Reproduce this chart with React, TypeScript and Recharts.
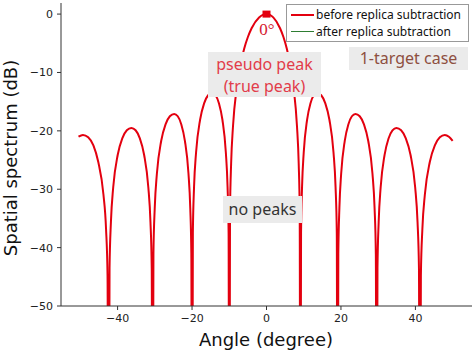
import React from 'react';
import { LineChart, Line, XAxis, YAxis, ReferenceDot } from 'recharts';

const angles = [
  -50.5, -49.3, -47.9, -46.5, -45.2, -43.8, -43.1, -42.7, -42.4,
  -42.16, -41.79, -41.18, -39.96, -38.74, -37.52, -36.3, -35.16, -34.02, -32.88, -31.74, -31.17, -30.83, -30.6,
  -30.37, -30.02, -29.44, -28.28, -27.12, -25.96, -24.8, -23.84, -22.88, -21.92, -20.96, -20.48, -20.19, -20.0,
  -19.78, -19.46, -18.92, -17.84, -16.76, -15.68, -14.6, -13.68, -12.76, -11.84, -10.92, -10.46, -10.18, -10.0,
  -9.8, -9.5, -9, -8, -7, -6, -5, -4, -2, -1, 0, 0.91, 1.82, 3.64, 4.55, 5.46, 6.37, 7.28, 8.19, 8.65, 8.92, 9.1,
  9.28, 9.55, 10.0, 10.9, 11.8, 12.7, 13.6, 14.7, 15.8, 16.9, 18.0, 18.55, 18.88, 19.1,
  19.29, 19.58, 20.06, 21.02, 21.98, 22.94, 23.9, 25.04, 26.18, 27.32, 28.46, 29.03, 29.37, 29.6,
  29.81, 30.13, 30.66, 31.72, 32.78, 33.84, 34.9, 36.16, 37.42, 38.68, 39.94, 40.57, 40.95, 41.2,
  41.47, 41.87, 42.54, 43.88, 45.22, 46.56, 47.9, 49.0, 50.0,
];
const spectrum = [
  -21.0, -20.7, -21.1, -22.5, -25.3, -30.9, -36.8, -44.7, -100,
  -43.5, -35.6, -29.7, -24.1, -21.3, -19.9, -19.5, -19.9, -21.3, -24.1, -29.7, -35.6, -43.5, -100,
  -41.1, -33.2, -27.3, -21.7, -18.9, -17.5, -17.1, -17.5, -18.9, -21.7, -27.3, -33.2, -41.1, -100,
  -37.5, -29.6, -23.7, -18.1, -15.3, -13.9, -13.5, -13.9, -15.3, -18.1, -23.7, -29.6, -37.5, -100,
  -33.8, -25.6, -19.2, -12.6, -8.69, -5.94, -3.92, -2.42, -0.57, -0.14, 0, -0.14, -0.57, -2.42, -3.92, -5.94, -8.69, -12.6, -19.2, -25.6, -33.8, -100,
  -37.5, -29.6, -23.7, -18.1, -15.3, -13.9, -13.5, -13.9, -15.3, -18.1, -23.7, -29.6, -37.5, -100,
  -41.1, -33.2, -27.3, -21.7, -18.9, -17.5, -17.1, -17.5, -18.9, -21.7, -27.3, -33.2, -41.1, -100,
  -43.5, -35.6, -29.7, -24.1, -21.3, -19.9, -19.5, -19.9, -21.3, -24.1, -29.7, -35.6, -43.5, -100,
  -44.7, -36.8, -30.9, -25.3, -22.5, -21.1, -20.7, -21.0, -21.7,
];

const peakAngles = [0];
const peakValues = [0];

const xTicks = [-40, -20, 0, 20, 40];
const yTicks = [0, -10, -20, -30, -40, -50];

const data = angles.map((a, i) => ({ angle: a, before: spectrum[i] }));

const fmt = (v: number) => (v < 0 ? `\u2212${Math.abs(v)}` : `${v}`);

const tickStyle = { fontFamily: 'DejaVu Sans', fontSize: 11, fill: '#222' };
const boxBg = '#ebebeb';
const annoFont = "'Noto Sans', sans-serif";

const Square = (props: any) => {
  const { cx, cy } = props;
  return <rect x={cx - 4} y={cy - 3.5} width={8} height={7} fill="#e3000f" />;
};

export default function App() {
  return (
    <div style={{ position: 'absolute', left: 0, top: 0, width: 474, height: 352, background: '#fff' }}>
      <LineChart width={474} height={352} data={data} margin={{ top: 3, right: 2, left: 0, bottom: 0 }}>
        <XAxis
          dataKey="angle"
          type="number"
          domain={[-55.2, 55.2]}
          ticks={xTicks}
          tickFormatter={fmt}
          height={46}
          tick={tickStyle}
          tickSize={4}
          tickMargin={4}
          stroke="#333"
          allowDataOverflow
          label={{
            content: () => (
              <text x={266} y={346} textAnchor="middle" fontFamily="DejaVu Sans" fontSize={18} fill="#111">
                Angle (degree)
              </text>
            ),
          }}
        />
        <XAxis xAxisId="top" orientation="top" dataKey="angle" type="number" domain={[-55.2, 55.2]} height={0} tick={false} tickLine={false} stroke="#333" />
        <YAxis
          type="number"
          domain={[-50, 1.9]}
          ticks={yTicks}
          tickFormatter={fmt}
          width={61}
          tick={tickStyle}
          tickSize={4}
          tickMargin={4}
          stroke="#333"
          allowDataOverflow
          label={{
            content: () => (
              <text x={10} y={158} textAnchor="middle" dominantBaseline="central" fontFamily="DejaVu Sans" fontSize={18} fill="#111" transform="rotate(-90 10 158)">
                Spatial spectrum (dB)
              </text>
            ),
          }}
        />
        <YAxis yAxisId="right" orientation="right" domain={[-50, 1.9]} width={0} tick={false} tickLine={false} stroke="#333" />
        <Line
          type="monotone"
          dataKey="before"
          stroke="#e3000f"
          strokeWidth={2}
          dot={false}
          isAnimationActive={false}
        />
        {peakAngles.map((a, i) => (
          <ReferenceDot key={i} x={a} y={peakValues[i]} r={4} shape={<Square />} />
        ))}
      </LineChart>

      <div style={{ position: 'absolute', left: 252, top: 20, width: 30, textAlign: 'center', fontFamily: 'Liberation Serif', fontSize: 17, color: '#d42030', lineHeight: '20px' }}>
        0°
      </div>

      <div style={{ position: 'absolute', left: 208, top: 52, width: 113, height: 45, background: boxBg, color: '#e23c4a', fontFamily: annoFont, fontSize: 16, lineHeight: '22px', textAlign: 'center', paddingTop: 1, boxSizing: 'border-box' }}>
        pseudo peak<br />(true peak)
      </div>

      <div style={{ position: 'absolute', left: 349, top: 47, width: 119, height: 23, background: boxBg, color: '#8e4f3f', fontFamily: annoFont, fontSize: 16, lineHeight: '23px', textAlign: 'center' }}>
        1-target case
      </div>

      <div style={{ position: 'absolute', left: 223, top: 196, width: 79, height: 27, background: boxBg, color: '#333', fontFamily: annoFont, fontSize: 16, lineHeight: '27px', textAlign: 'center' }}>
        no peaks
      </div>

      <div style={{ position: 'absolute', left: 286, top: 4, width: 183, height: 38, background: '#fff', border: '1px solid #999', boxSizing: 'border-box', fontFamily: annoFont, fontSize: 12, color: '#111' }}>
        <div style={{ position: 'absolute', left: 4, top: 1, height: 17, display: 'flex', alignItems: 'center' }}>
          <span style={{ display: 'inline-block', width: 23, height: 2, background: '#e3000f', marginRight: 2 }} />
          before replica subtraction
        </div>
        <div style={{ position: 'absolute', left: 4, top: 18, height: 17, display: 'flex', alignItems: 'center' }}>
          <span style={{ display: 'inline-block', width: 23, height: 1, background: '#2e7d32', marginRight: 2 }} />
          after replica subtraction
        </div>
      </div>
    </div>
  );
}
